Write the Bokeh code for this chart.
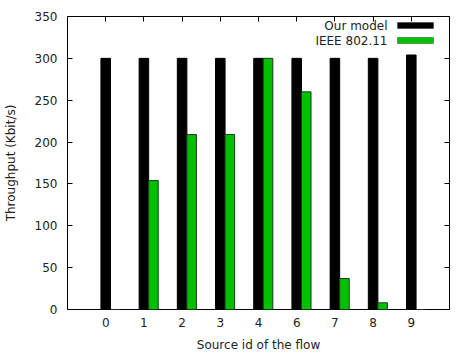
from bokeh.plotting import figure
from bokeh.models import Range1d, FixedTicker, LinearAxis, Label, BoxAnnotation, ColumnDataSource
from bokeh.transform import dodge
from bokeh.embed import file_html
from bokeh.resources import INLINE

source_ids = ["0", "1", "2", "3", "4", "6", "7", "8", "9"]
our_model = [300, 300, 300, 300, 300, 300, 300, 300, 304]
ieee_80211 = [0, 154, 209, 209, 300, 260, 37, 8, 0]
y_ticks = [0, 50, 100, 150, 200, 250, 300, 350]

idx = list(range(len(source_ids)))
src = ColumnDataSource(dict(idx=idx, ours=our_model, ieee=ieee_80211))

FONT = "DejaVu Sans"
TXT = "#222222"

p = figure(width=474, height=355, output_backend="svg", toolbar_location=None,
           x_range=Range1d(-1, 9), y_range=Range1d(0, 350),
           min_border_left=67, min_border_right=25, min_border_top=16, min_border_bottom=46)
p.xgrid.visible = False
p.ygrid.visible = False
p.outline_line_color = "black"
p.outline_line_width = 1
p.background_fill_color = "white"
p.border_fill_color = "white"

p.vbar(x="idx", top="ours", width=0.25, source=src, fill_color="black", line_color="black")
p.vbar(x=dodge("idx", 0.25), top="ieee", width=0.25, source=src, fill_color="#00c000",
       line_color="#1e3a1e", line_width=1)

xa = p.xaxis[0]
xa.ticker = FixedTicker(ticks=idx)
xa.major_label_overrides = {i: s for i, s in enumerate(source_ids)}
ya = p.yaxis[0]
ya.ticker = FixedTicker(ticks=y_ticks)
for ax in (xa, ya):
    ax.axis_line_color = None
    ax.major_tick_in = 5
    ax.major_tick_out = 0
    ax.minor_tick_line_color = None
    ax.major_tick_line_color = "black"
    ax.major_label_text_font = FONT
    ax.major_label_text_font_size = "12px"
    ax.major_label_text_color = TXT
    ax.axis_label_text_font = FONT
    ax.axis_label_text_font_size = "12px"
    ax.axis_label_text_font_style = "normal"
    ax.axis_label_text_color = TXT
xa.axis_label = "Source id of the flow"
ya.axis_label = "Throughput (Kbit/s)"
xa.major_label_standoff = 8
xa.axis_label_standoff = 8
ya.major_label_standoff = 10
ya.axis_label_standoff = 14

ra = LinearAxis(ticker=FixedTicker(ticks=y_ticks))
ra.major_label_overrides = {t: "" for t in y_ticks}
ta = LinearAxis(ticker=FixedTicker(ticks=idx))
ta.major_label_overrides = {i: "" for i in idx}
for ax in (ra, ta):
    ax.axis_line_color = None
    ax.major_tick_in = 5
    ax.major_tick_out = 0
    ax.minor_tick_line_color = None
    ax.major_label_text_font_size = "8px"
    ax.major_label_standoff = 0
p.add_layout(ra, "right")
p.add_layout(ta, "above")

# legend (gnuplot style: text then sample); screen units relative to the frame
names = ["Our model", "IEEE 802.11"]
colors = ["black", "#00c000"]
for i, (n, c) in enumerate(zip(names, colors)):
    yc = 284 - 15 * i
    p.add_layout(Label(x=320, y=yc, x_units="screen", y_units="screen", text=n,
                       text_align="right", text_baseline="middle", text_font=FONT,
                       text_font_size="12px", text_color=TXT))
    p.add_layout(BoxAnnotation(left=330, right=366, bottom=yc - 3, top=yc + 3,
                               left_units="screen", right_units="screen",
                               top_units="screen", bottom_units="screen",
                               fill_color=c, fill_alpha=1, line_color="black", line_width=1))

open("out.html", "w").write(file_html(p, INLINE))
